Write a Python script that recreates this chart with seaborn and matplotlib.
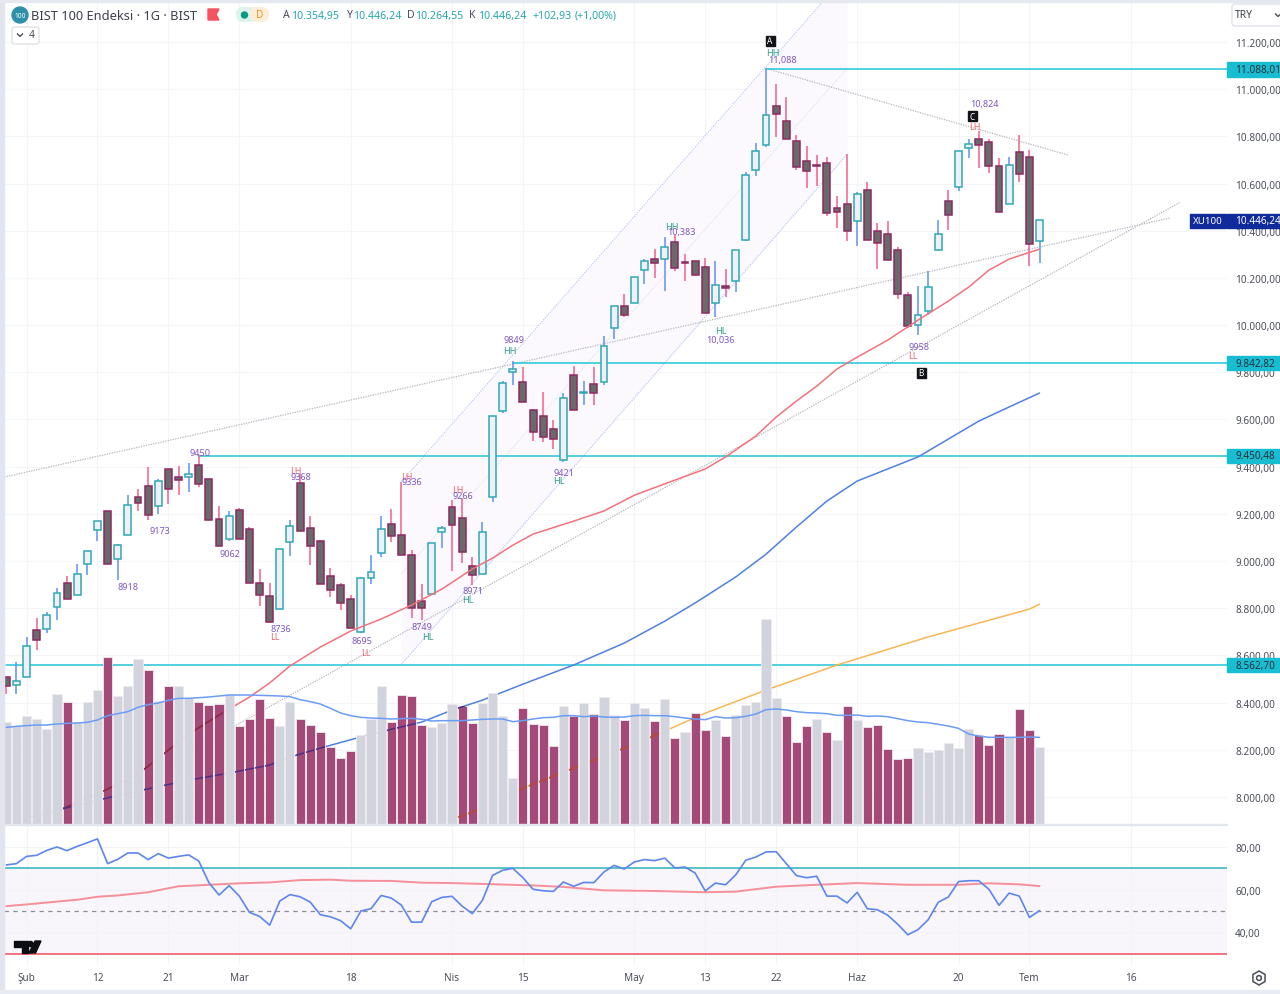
import numpy as np
import pandas as pd
import matplotlib
matplotlib.use('Agg')
import matplotlib.pyplot as plt
from matplotlib.patches import Circle, FancyBboxPatch, Polygon, Rectangle, RegularPolygon
from matplotlib.path import Path
from matplotlib.transforms import IdentityTransform
import seaborn as sns

"""
Data, read off the picture
"""
opens = [8510, 8475, 8510, 8706, 8710, 8805, 8906, 8857, 8988, 9131, 9212, 9009, 9109, 9270, 9316, 9233, 9390, 9354,
         9357, 9405, 9346, 9178, 9094, 9215, 9134, 8906, 8853, 8795, 9079, 9332, 9141, 9084, 8936, 8897, 8837, 8700,
         8926, 9032, 9157, 9109, 9025, 8831, 8860, 9121, 9229, 9182, 8977, 8943, 9270, 9634, 9802, 9757, 9638, 9613,
         9559, 9428, 9789, 9713, 9750, 9760, 9987, 10079, 10092, 10232, 10280, 10279, 10353, 10268, 10273, 10247,
         10092, 10165, 10185, 10362, 10656, 10762, 10927, 10865, 10780, 10697, 10677, 10686, 10496, 10514, 10440,
         10572, 10400, 10386, 10319, 10129, 9999, 10061, 10317, 10524, 10584, 10750, 10787, 10776, 10674, 10513,
         10732, 10711, 10355]
highs = [8510, 8573, 8679, 8758, 8782, 8886, 8936, 8987, 9042, 9170, 9212, 9072, 9279, 9304, 9399, 9347, 9390, 9402,
         9414, 9450, 9346, 9234, 9213, 9223, 9145, 8966, 8905, 9051, 9173, 9368, 9190, 9087, 8969, 8905, 8857, 8931,
         9025, 9192, 9220, 9336, 9045, 8902, 9076, 9149, 9257, 9266, 9015, 9165, 9613, 9764, 9849, 9821, 9644, 9715,
         9597, 9711, 9828, 9764, 9823, 9952, 10079, 10131, 10204, 10280, 10322, 10373, 10383, 10301, 10273, 10284,
         10270, 10237, 10317, 10647, 10770, 11088, 11020, 10968, 10807, 10758, 10721, 10712, 10548, 10724, 10563,
         10605, 10431, 10441, 10329, 10139, 10164, 10228, 10445, 10572, 10736, 10789, 10824, 10789, 10707, 10712,
         10805, 10742, 10446]
lows = [8436, 8436, 8510, 8622, 8694, 8750, 8839, 8857, 8940, 9086, 8988, 8918, 9109, 9213, 9173, 9198, 9243, 9279,
        9291, 9315, 9175, 9062, 9086, 9094, 8905, 8810, 8736, 8795, 9020, 9127, 8983, 8902, 8848, 8793, 8714, 8695,
        8902, 9015, 9079, 9025, 8758, 8749, 8860, 9053, 8959, 8990, 8899, 8943, 9249, 9626, 9746, 9675, 9510, 9503,
        9474, 9421, 9640, 9662, 9662, 9747, 9941, 10033, 10092, 10175, 10199, 10143, 10230, 10187, 10213, 10052,
        10036, 10118, 10141, 10357, 10633, 10753, 10798, 10789, 10658, 10582, 10589, 10461, 10410, 10355, 10334,
        10360, 10239, 10277, 10110, 9987, 9958, 10042, 10317, 10403, 10567, 10707, 10666, 10644, 10480, 10513,
        10608, 10251, 10265]
closes = [8469, 8490, 8641, 8664, 8772, 8864, 8839, 8945, 9042, 9170, 8988, 9069, 9237, 9244, 9193, 9340, 9306, 9342,
          9368, 9327, 9175, 9062, 9189, 9094, 8905, 8857, 8740, 9051, 9149, 9127, 9065, 8902, 8878, 8823, 8714, 8926,
          8952, 9134, 9104, 9025, 8802, 8802, 9076, 9138, 9152, 9037, 8940, 9124, 9613, 9753, 9812, 9675, 9545, 9527,
          9518, 9691, 9640, 9716, 9712, 9910, 10079, 10041, 10204, 10273, 10262, 10331, 10242, 10264, 10213, 10052,
          10170, 10156, 10317, 10637, 10736, 10890, 10895, 10789, 10671, 10653, 10673, 10474, 10478, 10397, 10554,
          10360, 10346, 10277, 10133, 9996, 10044, 10162, 10386, 10466, 10736, 10766, 10763, 10675, 10480, 10678,
          10641, 10343, 10446]

volumes = [305, 295, 325, 315, 285, 390, 365, 305, 367, 401, 500, 385, 413, 495, 463, 370, 413, 413, 377, 367,
           357, 359, 387, 295, 316, 375, 318, 293, 365, 316, 296, 277, 231, 197, 220, 267, 315, 413, 305, 388,
           385, 298, 290, 303, 360, 354, 303, 362, 393, 325, 137, 347, 300, 298, 233, 354, 323, 362, 331, 380,
           326, 313, 362, 347, 310, 375, 259, 277, 334, 282, 311, 264, 326, 357, 365, 616, 377, 323, 245, 293,
           315, 277, 251, 355, 311, 290, 298, 225, 194, 197, 228, 217, 222, 243, 228, 285, 266, 238, 269, 260,
           344, 282, 230]
red_days = [6, 10, 14, 16, 19, 20, 21, 23, 24, 25, 26, 29, 30, 31, 32, 33, 34, 38, 39, 40, 41, 45, 46, 51, 52, 53, 54,
            56, 58, 61, 64, 66, 68, 69, 71, 77, 78, 79, 81, 83, 85, 86, 87, 88, 89, 96, 97, 98, 100, 101]
volume_ma = [290, 293, 295, 297, 297, 300, 302, 303, 305, 312, 325, 331, 337, 350, 358, 363, 371, 377, 377, 379,
             381, 384, 387, 387, 387, 386, 385, 384, 382, 373, 367, 360, 347, 333, 325, 320, 318, 317, 315, 316,
             317, 314, 309, 310, 310, 310, 312, 314, 315, 315, 307, 310, 315, 319, 320, 325, 325, 322, 324, 321,
             320, 321, 325, 326, 325, 325, 322, 318, 315, 313, 322, 318, 319, 323, 330, 343, 345, 342, 337, 334,
             333, 331, 326, 326, 327, 323, 324, 322, 316, 310, 306, 304, 299, 294, 287, 270, 264, 260, 260, 260,
             260, 261, 260]

ma_red_days = [5, 10, 13, 16, 18, 21, 24, 26, 28, 31, 34, 37, 40, 43, 46, 48, 50, 52, 56, 59, 62, 66, 69, 71, 74, 76,
               78, 80, 82, 84, 87, 90, 93, 95, 97, 99, 102]
ma_red = [7940, 8033, 8097, 8198, 8266, 8347, 8423, 8483, 8555, 8635, 8703, 8754, 8813, 8881, 8966, 9012, 9067, 9114,
          9169, 9212, 9279, 9343, 9390, 9441, 9530, 9610, 9678, 9741, 9814, 9864, 9936, 10021, 10102, 10161, 10233,
          10280, 10322]
ma_blue_days = [2, 5, 9, 13, 18, 22, 26, 28, 31, 36, 41, 44, 47, 51, 56, 61, 65, 68, 72, 75, 78, 81, 84, 87, 90, 93,
                96, 99, 102]
ma_blue = [7910, 7944, 7986, 8025, 8071, 8101, 8135, 8169, 8207, 8266, 8317, 8368, 8410, 8478, 8559, 8652, 8745, 8822,
           8932, 9029, 9144, 9254, 9339, 9390, 9441, 9517, 9593, 9653, 9712]
ma_orange_days = [43, 45, 47, 51, 55, 59, 62, 65, 69, 75, 82, 91, 101, 102]
ma_orange = [7899, 7919, 7954, 8037, 8105, 8173, 8224, 8279, 8355, 8453, 8559, 8678, 8796, 8817]

rsi = [71.6, 72.2, 75.6, 76.1, 78.4, 80, 78.3, 80.3, 82, 83.8, 72.2, 74.2, 77.2, 77.2, 74.1, 76.9, 74.8, 75.6, 76.3,
       73.4, 63.3, 57.5, 61.9, 57, 49.4, 47.5, 43.4, 54.7, 57.7, 56.7, 54.2, 48.3, 47.3, 45.5, 41.7, 50, 51.1, 57.3,
       56.1, 52.8, 44.8, 44.8, 54.4, 56.4, 56.9, 52.3, 48.8, 55, 66.7, 69.1, 70, 65.6, 60.2, 59.5, 59.2, 63.6, 61.6,
       63.4, 63.3, 68.3, 71.4, 69.7, 73, 74.1, 73.6, 74.8, 70.2, 70.6, 67.8, 59.4, 63.1, 62.3, 66.9, 73.8, 75.3, 77.7,
       77.8, 72.2, 66.6, 65.6, 66.3, 57, 57, 53.8, 58.8, 51.1, 50.6, 48.1, 43.8, 38.9, 41.3, 45.9, 54.1, 56.6, 63.8,
       64.2, 64.2, 60.2, 52.7, 58.4, 57, 47, 50.2]
rsi_ma_days = [0, 2, 7, 9, 11, 14, 17, 20, 23, 26, 29, 32, 34, 38, 41, 44, 47, 52, 55, 59, 64, 69, 72, 76, 80, 84, 89,
               94, 97, 100, 102]
rsi_ma = [52.3, 53.1, 55.3, 56.7, 57.3, 58.8, 61.6, 62.3, 63, 63.4, 64.5, 64.7, 64.2, 64.1, 63.3, 63.1, 62.7, 62, 61.3,
          59.7, 59.4, 58.8, 59.1, 61.4, 62.3, 63.1, 62.3, 62.3, 63, 62.5, 61.7]

level_days = [75, 50, 19, 0]
level_prices = [11088.01, 9842.82, 9450.48, 8562.70]
level_labels = ['11.088,01', '9.842,82', '9.450,48', '8.562,70']

price_ticks = list(range(8000, 11400, 200))
price_labels = ['8.000,00', '8.200,00', '8.400,00', '8.600,00', '8.800,00', '9.000,00', '9.200,00', '9.400,00',
                '9.600,00', '9.800,00', '10.000,00', '10.200,00', '10.400,00', '10.600,00', '10.800,00', '11.000,00',
                '11.200,00']
time_ticks = [2, 9, 16, 23, 34, 44, 51, 62, 69, 76, 84, 94, 101, 111]
time_labels = ['Şub', '12', '21', 'Mar', '18', 'Nis', '15', 'May', '13', '22', 'Haz', '20', 'Tem', '16']
month_labels = ['Şub', 'Mar', 'Nis', 'May', 'Haz', 'Tem']

# (day, price, day, price)
trend_lines = [(-0.2, 9356, 114.9, 10454), (5.4, 7893, 115.9, 10521), (75, 11088, 104.8, 10721)]
channel_days = [39, 83]
channel_upper = [9336, 11488]
channel_middle = [8945, 11088]
channel_lower = [8562, 10724]

"""
Layout
"""
W, H = 1280, 995
LEFT, RIGHT = 4, 1227
PANE_TOP, PANE_BOTTOM = 3, 825
RSI_BOTTOM = 965
DAY_PX, DAY0_PX = 10.13, 6.3
PRICE_AT_0, PRICE_PER_PX = 11382.3, 4.239
RSI_PER_PX = 0.4684
TAG_W = 53 / (RIGHT - LEFT)

UP_EDGE, UP_BODY, UP_WICK = '#2fa8b4', '#eef1f9', '#5b93f2'
DOWN_EDGE, DOWN_BODY, DOWN_WICK = '#8c2a62', '#6a6a6a', '#f0608a'
CYAN = '#22c4d8'
PURPLE, RED, GREEN = '#7e57c2', '#f0626e', '#2f9e8a'
GREY = '#4a4e58'
SCALE_SIZE = 7.2

sns.set_theme(style='white')
plt.rcParams['font.family'] = ['Noto Sans', 'DejaVu Sans']


def pane(fig, top, bottom):
    return fig.add_axes([LEFT / W, 1 - bottom / H, (RIGHT - LEFT) / W, (bottom - top) / H])


def day_at(px):
    return (px - DAY0_PX) / DAY_PX


def chrome(fig, patch):
    patch.set_transform(IdentityTransform())
    patch.set_zorder(10)
    fig.add_artist(patch)


def label(fig, x, y, text, color, size=6.5, ha='center', weight='normal'):
    fig.text(x / W, 1 - y / H, text, color=color, fontsize=size, ha=ha, va='center', weight=weight, zorder=11)


def draw_candles(ax):
    for i, (o, h, l, c) in enumerate(zip(opens, highs, lows, closes)):
        up = c >= o
        ax.vlines(i, l, h, color=UP_WICK if up else DOWN_WICK, lw=1.1, zorder=3)
        ax.bar(i, max(abs(c - o), 2), bottom=min(o, c), width=0.68, color=UP_BODY if up else DOWN_BODY,
               edgecolor=UP_EDGE if up else DOWN_EDGE, lw=1.1, zorder=4)


def draw_price_pane(ax):
    x_channel = np.array(channel_days)
    ax.fill_between(x_channel, channel_lower, channel_upper, color='#fbf9fe', lw=0, zorder=1)
    ax.plot(x_channel, channel_upper, color='#bccbf8', lw=0.9, ls=(0, (1, 1)), zorder=2)
    ax.plot(x_channel, channel_lower, color='#bccbf8', lw=0.9, ls=(0, (1, 1)), zorder=2)
    ax.plot(x_channel, channel_middle, color='#e2e2ea', lw=0.8, ls=(0, (1, 1)), zorder=2)
    for x0, y0, x1, y1 in trend_lines:
        ax.plot([x0, x1], [y0, y1], color='#b4b6bd', lw=0.9, ls=(0, (1, 1)), zorder=2)

    yaxis_tf = ax.get_yaxis_transform()
    # the drawn levels and tags sit one pixel under the scale in the reference
    nudge = PRICE_PER_PX
    for day, price, text in zip(level_days, level_prices, level_labels):
        ax.plot([day, day_at(RIGHT)], [price - nudge, price - nudge], color=CYAN, lw=1.1, zorder=2)
        ax.add_patch(Rectangle((1, price - nudge - 30), TAG_W, 60, transform=yaxis_tf, color='#18bdd2',
                               clip_on=False, zorder=6))
        ax.text(1 + 8 / (RIGHT - LEFT), price - nudge, text, transform=yaxis_tf, color='#25313a',
                fontsize=SCALE_SIZE, va='center', clip_on=False, zorder=7)

    draw_candles(ax)
    sns.lineplot(x=ma_red_days, y=ma_red, color='#f2727c', lw=1.1, ax=ax, zorder=5, legend=False)
    sns.lineplot(x=ma_blue_days, y=ma_blue, color='#4f80e2', lw=1.1, ax=ax, zorder=5, legend=False)
    sns.lineplot(x=ma_orange_days, y=ma_orange, color='#f8b556', lw=1.1, ax=ax, zorder=5, legend=False)

    # last price tag
    last = closes[-1] - nudge
    ax.add_patch(Rectangle((1 - 37 / (RIGHT - LEFT), last - 30), 36 / (RIGHT - LEFT), 60, transform=yaxis_tf,
                           color='#0f2b9c', clip_on=False, zorder=6))
    ax.add_patch(Rectangle((1, last - 30), TAG_W, 60, transform=yaxis_tf, color='#0f2b9c', clip_on=False, zorder=6))
    ax.text(1 - 19 / (RIGHT - LEFT), last, 'XU100', transform=yaxis_tf, color='white', fontsize=7,
            ha='center', va='center', clip_on=False, zorder=7)
    ax.text(1 + 8 / (RIGHT - LEFT), last, '10.446,24', transform=yaxis_tf, color='white', fontsize=SCALE_SIZE,
            va='center', clip_on=False, zorder=7)

    ax.set_xlim(day_at(LEFT), day_at(RIGHT))
    ax.set_ylim(PRICE_AT_0 - PRICE_PER_PX * PANE_BOTTOM, PRICE_AT_0 - PRICE_PER_PX * PANE_TOP)
    ax.yaxis.tick_right()
    ax.set_yticks(price_ticks, price_labels)
    ax.set_xticks(time_ticks, [])
    ax.tick_params(length=0, labelsize=SCALE_SIZE, labelcolor=GREY, pad=5.8)
    ax.grid(True, color='#f4f5f9', lw=0.8)
    ax.set_axisbelow(True)
    sns.despine(ax=ax, left=True, bottom=True, right=True, top=True)


def draw_volume_pane(ax, price_ax):
    days = np.arange(len(volumes))
    df = pd.DataFrame({'day': days, 'volume': volumes,
                       'kind': ['down' if d in red_days else 'up' for d in days]})
    sns.barplot(data=df, x='day', y='volume', hue='kind', native_scale=True, dodge=False, width=0.9,
                palette={'up': '#d1d4dc', 'down': '#a44a78'}, saturation=1, edgecolor='#efe9ef', linewidth=0.6,
                legend=False, ax=ax, zorder=2)

    # moving averages show darker through the red bars
    red_path = Path.make_compound_path(*[
        Path([(d - 0.42, 0), (d + 0.42, 0), (d + 0.42, volumes[d]), (d - 0.42, volumes[d]), (d - 0.42, 0)])
        for d in red_days])
    for xs, ys, dark in [(ma_red_days, ma_red, '#8e2240'), (ma_blue_days, ma_blue, '#4d2f86'),
                         (ma_orange_days, ma_orange, '#b9472f')]:
        line, = ax.plot(xs, ys, color=dark, lw=1.1, transform=price_ax.transData, scalex=False, scaley=False, zorder=3)
        line.set_clip_path(red_path, ax.transData)

    sns.lineplot(x=days, y=volume_ma, color='#6c9cf6', lw=1.1, ax=ax, zorder=4, legend=False)
    ax.set_xlim(day_at(LEFT), day_at(RIGHT))
    ax.set_ylim(0, (PANE_BOTTOM - PANE_TOP) * 3)
    ax.axis('off')


def draw_rsi_pane(ax):
    days = np.arange(len(rsi))
    ax.axhspan(30, 70, color='#f8f5fb', lw=0, zorder=0)
    ax.axhline(70, color='#2fb2bc', lw=1.1, zorder=2)
    ax.axhline(30, color='#f2727c', lw=1.4, zorder=2)
    ax.axhline(50, color='#8a8d96', lw=0.9, ls=(0, (3.5, 3.5)), zorder=2)
    sns.lineplot(x=rsi_ma_days, y=rsi_ma, color='#f78f98', lw=1.4, ax=ax, zorder=3, legend=False)
    sns.lineplot(x=days, y=rsi, color='#5c86ee', lw=1.2, ax=ax, zorder=4, legend=False)
    ax.set_xlim(day_at(LEFT), day_at(RIGHT))
    ax.set_ylim(80 - (RSI_BOTTOM - 848) * RSI_PER_PX, 80 + (848 - 826) * RSI_PER_PX)
    ax.yaxis.tick_right()
    ax.set_yticks([40, 60, 80], ['40,00', '60,00', '80,00'])
    ax.set_xticks(time_ticks, time_labels)
    for tick in ax.get_xticklabels():
        if tick.get_text() in month_labels:
            tick.set_weight('bold')
    ax.tick_params(length=0, labelsize=SCALE_SIZE, labelcolor=GREY, pad=5.8)
    ax.tick_params(axis='x', pad=6)
    ax.grid(True, color='#f2f3f7', lw=0.8)
    ax.set_axisbelow(True)
    sns.despine(ax=ax, left=True, bottom=True, right=True, top=True)


def draw_swing_labels(fig):
    swings = [('9450', 200, 453, PURPLE), ('9173', 160, 532, PURPLE), ('8918', 128, 587, PURPLE),
              ('9062', 230, 555, PURPLE), ('LH', 296, 472, RED), ('9368', 301, 478, PURPLE),
              ('8736', 281, 630, PURPLE), ('LL', 275, 637, RED), ('8695', 362, 642, PURPLE), ('LL', 366, 654, RED),
              ('LH', 407, 477, RED), ('9336', 412, 483, PURPLE), ('8749', 422, 628, PURPLE), ('HL', 428, 637, GREEN),
              ('LH', 458, 491, RED), ('9266', 463, 497, PURPLE), ('8971', 473, 592, PURPLE), ('HL', 468, 601, GREEN),
              ('9849', 514, 341, PURPLE), ('HH', 510, 352, GREEN), ('9421', 564, 474, PURPLE), ('HL', 559, 481, GREEN),
              ('HH', 672, 227, GREEN), ('10,383', 681, 233, PURPLE), ('HL', 721, 332, GREEN),
              ('10,036', 720, 341, PURPLE), ('HH', 773, 53, GREEN), ('11,088', 782, 60, PURPLE),
              ('10,824', 984, 104, PURPLE), ('LH', 975, 127, RED), ('9958', 919, 347, PURPLE), ('LL', 913, 357, RED)]
    for text, x, y, color in swings:
        label(fig, x, y, text, color)
    for text, x, y in [('A', 770, 42), ('C', 972, 117), ('B', 921, 374)]:
        chrome(fig, Rectangle((x - 4.5, H - y - 5), 9, 10, color='#111318'))
        label(fig, x, y, text, 'white', size=6, weight='bold')


def draw_header(fig):
    # window frame
    chrome(fig, Rectangle((0, 0), 3.5, H, color='#e3e5ee'))
    chrome(fig, Rectangle((0, H - 2.5), W, 2.5, color='#e6e8f0'))
    chrome(fig, Rectangle((0, 0), W, 4.5, color='#e9ebf2'))
    chrome(fig, Rectangle((LEFT, H - 826), RIGHT - LEFT, 1, color='#e4e6ed'))

    chrome(fig, Circle((20, H - 16), 8, color='#2e90a8'))
    label(fig, 20, 16, '100', 'white', size=4.8, weight='bold')
    label(fig, 31, 16, 'BIST 100 Endeksi · 1G · BIST', '#3b3f48', size=9.2, ha='left')
    chrome(fig, Polygon([(208, H - 10), (219, H - 10), (216, H - 15.5), (219, H - 21), (208, H - 21)], color='#f7525f'))
    chrome(fig, FancyBboxPatch((236, H - 23), 20, 15, boxstyle='round,pad=0,rounding_size=7', color='#def3ed', lw=0))
    chrome(fig, FancyBboxPatch((250, H - 23), 19, 15, boxstyle='round,pad=0,rounding_size=7', color='#fdeeda', lw=0))
    chrome(fig, Rectangle((252, H - 23), 5, 15, color='#fdeeda', lw=0))
    chrome(fig, Circle((244.5, H - 16), 3, color='#089981'))
    label(fig, 260, 16, 'D', '#f7931a', size=7.2, weight='bold')

    for x, text, color in [(283, 'A', GREY), (291, '10.354,95', '#26a6b2'), (346, 'Y', GREY),
                           (353.5, '10.446,24', '#26a6b2'), (407, 'D', GREY), (415.5, '10.264,55', '#26a6b2'),
                           (469, 'K', GREY), (477.6, '10.446,24', '#26a6b2'), (532, '+102,93', '#26a6b2'),
                           (575, '(+1,00%)', '#26a6b2')]:
        label(fig, x, 16, text, color, size=7.6, ha='left')

    chrome(fig, FancyBboxPatch((12, H - 45), 27, 17, boxstyle='round,pad=0,rounding_size=2.5', fc='white',
                               ec='#dfe1e8', lw=1))
    chrome(fig, Polygon([(17, H - 34.5), (20, H - 37.5), (23, H - 34.5)], closed=False, fill=False, ec=GREY, lw=1))
    label(fig, 32, 36, '4', GREY, size=7.4)

    chrome(fig, FancyBboxPatch((1232, H - 27), 60, 22, boxstyle='round,pad=0,rounding_size=3', fc='white',
                               ec='#e0e2e9', lw=1))
    label(fig, 1235, 16, 'TRY', '#3b3f48', size=7.4, ha='left')
    chrome(fig, Polygon([(1275, H - 14.5), (1278, H - 17.5), (1280, H - 15.5)], closed=False, fill=False,
                        ec=GREY, lw=1))

    # logo and settings
    chrome(fig, Polygon([(14, H - 942), (28, H - 942), (28, H - 954), (21.5, H - 954), (21.5, H - 948), (14, H - 948)],
                        color='#0b0d12'))
    chrome(fig, Circle((30.5, H - 945), 2.6, color='#0b0d12'))
    chrome(fig, Polygon([(35, H - 942), (41, H - 942), (35.5, H - 954), (29, H - 954)], color='#0b0d12'))
    chrome(fig, RegularPolygon((1259, H - 979), 6, radius=7, fill=False, ec='#4a4e58', lw=1.1))
    chrome(fig, Circle((1259, H - 979), 2.4, fill=False, ec='#4a4e58', lw=1.1))


def main():
    fig = plt.figure(figsize=(W / 100, H / 100), dpi=100, facecolor='white')
    ax_price = pane(fig, PANE_TOP, PANE_BOTTOM)
    ax_volume = pane(fig, PANE_TOP, PANE_BOTTOM)
    ax_rsi = pane(fig, 826, RSI_BOTTOM)
    ax_price.set_zorder(1)
    ax_volume.set_zorder(2)
    ax_volume.patch.set_alpha(0)

    draw_price_pane(ax_price)
    draw_volume_pane(ax_volume, ax_price)
    draw_rsi_pane(ax_rsi)
    draw_swing_labels(fig)
    draw_header(fig)

    fig.savefig('out.png', dpi=100)
    plt.close(fig)


if __name__ == '__main__':
    main()
